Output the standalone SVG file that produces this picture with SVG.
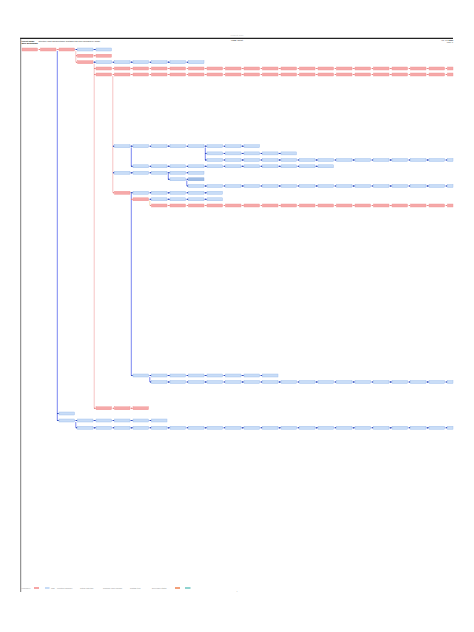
<svg xmlns="http://www.w3.org/2000/svg" width="474" height="632" viewBox="0 0 474 632">
<style>
text{font-family:"Liberation Sans",Arial,sans-serif}
.b{fill:#c9ddf7;stroke:#97b9ea;stroke-width:.4}
.r{fill:#f6a9a9;stroke:#ef9090;stroke-width:.4}
.d{fill:#9fbde6;stroke:#7fa3da;stroke-width:.4}
.cb path{stroke:#2a46c8;stroke-width:.5;fill:none;marker-end:url(#ab)}
.cr path{stroke:#ef9a9a;stroke-width:.5;fill:none;marker-end:url(#ar)}
.vb path{stroke:#5868ee;stroke-width:.8;fill:none}
.vr path{stroke:#f3aaaa;stroke-width:.7;fill:none}
.vo path{stroke:#f2cf9c;stroke-width:.7;fill:none}
</style>
<defs>
<marker id="ab" viewBox="0 0 2 2" markerWidth="1.8" markerHeight="1.8" refX="2" refY="1" orient="auto" markerUnits="userSpaceOnUse"><path d="M0 0L2 1L0 2z" fill="#1f3db8"/></marker>
<marker id="ar" viewBox="0 0 2 2" markerWidth="1.8" markerHeight="1.8" refX="2" refY="1" orient="auto" markerUnits="userSpaceOnUse"><path d="M0 0L2 1L0 2z" fill="#e57878"/></marker>
</defs>
<rect width="474" height="632" fill="#fff"/>
<g id="frame">
<line x1="20" y1="38.3" x2="453" y2="38.3" stroke="#222" stroke-width="1.2"/>
<line x1="20.7" y1="38" x2="20.7" y2="592" stroke="#444" stroke-width=".7"/>
<text x="237" y="36.4" font-size="2.4" fill="#bbb" text-anchor="middle">Project Plan</text>
<text x="237" y="41.3" font-size="2.4" fill="#333" text-anchor="middle">WBS Chart</text>
<text x="21.5" y="41.6" font-size="2" font-weight="bold" fill="#111">Project Name</text>
<text x="21.5" y="43.8" font-size="2" font-weight="bold" fill="#111">Work Breakdown</text>
<text x="38.5" y="41.6" font-size="2" fill="#333">Structure chart showing tasks, subtasks and work packages by phase</text>
<text x="453" y="41.3" font-size="2" fill="#333" text-anchor="end">Ver. 1.0 <tspan font-weight="bold">2023</tspan></text>
<text x="453" y="43.4" font-size="2" fill="#555" text-anchor="end">Page 1</text>
</g>
<g id="legend" font-size="1.8" fill="#888">
<text x="21.5" y="588.5">Legend</text>
<text x="27.5" y="588.5">Key</text>
<rect x="34" y="587" width="5" height="2" fill="#f6a5a5"/>
<rect x="45" y="587" width="4.5" height="2" fill="#c6dbf6"/>
<text x="51" y="588.5">Task</text>
<text x="57" y="588.5">Milestone summary</text>
<text x="80" y="588.5">Critical path task</text>
<text x="103" y="588.5">Summary work package</text>
<text x="130" y="588.5">Subtask item</text>
<text x="152" y="588.5">Deliverable status</text>
<rect x="175" y="587" width="5" height="2" fill="#f2a07a"/>
<rect x="185" y="587" width="5.5" height="2" fill="#8fd3d0"/>
<text x="237" y="591.5" font-size="1.8" fill="#aaa" text-anchor="middle">1</text>
</g>
<g id="connectors">
<g class="vr">
<path d="M75.8 51V62.2"/>
<path d="M94.2 63.5V408.3"/>
<path d="M112.8 76V192.8"/>
</g>
<g class="vb">
<path d="M57.3 51V420.5"/>
<path d="M131.3 147.5V166.3"/>
<path d="M205.3 147.5V160"/>
<path d="M168.3 174V179.3"/>
<path d="M186.8 180.5V186"/>
<path d="M131.3 194V375.5"/>
<path d="M149.8 377V382"/>
<path d="M75.8 422V427.8"/>
</g>
<g class="vo"><path d="M149.8 200.5V205.5"/></g>
<g class="cr">
<path d="M37.5 49.5H40.5"/><path d="M56 49.5H59"/>
<path d="M75.8 55.7H77.5"/><path d="M75.8 62.2H77.5"/><path d="M93 55.7H96"/>
<path d="M94.2 68.5H96"/><path d="M94.2 74.5H96"/><path d="M94.2 408.3H96"/>
<path d="M111.5 68.5h3"/><path d="M130 68.5h3"/><path d="M148.5 68.5h3"/><path d="M167 68.5h3"/><path d="M185.5 68.5h3"/><path d="M204 68.5h3"/><path d="M222.5 68.5h3"/><path d="M241 68.5h3"/><path d="M259.5 68.5h3"/><path d="M278 68.5h3"/><path d="M296.5 68.5h3"/><path d="M315 68.5h3"/><path d="M333.5 68.5h3"/><path d="M352 68.5h3"/><path d="M370.5 68.5h3"/><path d="M389 68.5h3"/><path d="M407.5 68.5h3"/><path d="M426 68.5h3"/><path d="M444.5 68.5h3"/>
<path d="M111.5 74.5h3"/><path d="M130 74.5h3"/><path d="M148.5 74.5h3"/><path d="M167 74.5h3"/><path d="M185.5 74.5h3"/><path d="M204 74.5h3"/><path d="M222.5 74.5h3"/><path d="M241 74.5h3"/><path d="M259.5 74.5h3"/><path d="M278 74.5h3"/><path d="M296.5 74.5h3"/><path d="M315 74.5h3"/><path d="M333.5 74.5h3"/><path d="M352 74.5h3"/><path d="M370.5 74.5h3"/><path d="M389 74.5h3"/><path d="M407.5 74.5h3"/><path d="M426 74.5h3"/><path d="M444.5 74.5h3"/>
<path d="M112.8 192.8H114.5"/>
<path d="M149.8 205.5H151.5"/>
<path d="M167 205.5h3"/><path d="M185.5 205.5h3"/><path d="M204 205.5h3"/><path d="M222.5 205.5h3"/><path d="M241 205.5h3"/><path d="M259.5 205.5h3"/><path d="M278 205.5h3"/><path d="M296.5 205.5h3"/><path d="M315 205.5h3"/><path d="M333.5 205.5h3"/><path d="M352 205.5h3"/><path d="M370.5 205.5h3"/><path d="M389 205.5h3"/><path d="M407.5 205.5h3"/><path d="M426 205.5h3"/><path d="M444.5 205.5h3"/>
<path d="M111.5 408.3h3"/><path d="M130 408.3h3"/>
<path d="M131.3 199.3H133"/>
</g>
<g class="cb">
<path d="M74.5 49.5h3"/><path d="M93 49.5h3"/>
<path d="M93 62.2h3"/><path d="M111.5 62.2h3"/><path d="M130 62.2h3"/><path d="M148.5 62.2h3"/><path d="M167 62.2h3"/><path d="M185.5 62.2h3"/>
<path d="M112.8 146.2H114.5"/><path d="M112.8 172.8H114.5"/>
<path d="M130 146.2h3"/><path d="M148.5 146.2h3"/><path d="M167 146.2h3"/><path d="M185.5 146.2h3"/><path d="M204 146.2h3"/><path d="M222.5 146.2h3"/><path d="M241 146.2h3"/>
<path d="M205.3 153.4H207"/><path d="M205.3 160H207"/>
<path d="M222.5 153.4h3"/><path d="M241 153.4h3"/><path d="M259.5 153.4h3"/><path d="M278 153.4h3"/>
<path d="M222.5 160h3"/><path d="M241 160h3"/><path d="M259.5 160h3"/><path d="M278 160h3"/><path d="M296.5 160h3"/><path d="M315 160h3"/><path d="M333.5 160h3"/><path d="M352 160h3"/><path d="M370.5 160h3"/><path d="M389 160h3"/><path d="M407.5 160h3"/><path d="M426 160h3"/><path d="M444.5 160h3"/>
<path d="M131.3 166.3H133"/>
<path d="M148.5 166.3h3"/><path d="M167 166.3h3"/><path d="M185.5 166.3h3"/><path d="M204 166.3h3"/><path d="M222.5 166.3h3"/><path d="M241 166.3h3"/><path d="M259.5 166.3h3"/><path d="M278 166.3h3"/><path d="M296.5 166.3h3"/><path d="M315 166.3h3"/>
<path d="M130 172.8h3"/><path d="M148.5 172.8h3"/><path d="M167 172.8h3"/><path d="M185.5 172.8h3"/>
<path d="M168.3 179.3H170"/><path d="M185.5 179.3h3"/>
<path d="M186.8 186H188.5"/>
<path d="M204 186h3"/><path d="M222.5 186h3"/><path d="M241 186h3"/><path d="M259.5 186h3"/><path d="M278 186h3"/><path d="M296.5 186h3"/><path d="M315 186h3"/><path d="M333.5 186h3"/><path d="M352 186h3"/><path d="M370.5 186h3"/><path d="M389 186h3"/><path d="M407.5 186h3"/><path d="M426 186h3"/><path d="M444.5 186h3"/>
<path d="M130 192.8h3"/><path d="M148.5 192.8h3"/><path d="M167 192.8h3"/><path d="M185.5 192.8h3"/><path d="M204 192.8h3"/>
<path d="M148.5 199.3h3"/><path d="M167 199.3h3"/><path d="M185.5 199.3h3"/><path d="M204 199.3h3"/>
<path d="M131.3 375.5H133"/>
<path d="M148.5 375.5h3"/><path d="M167 375.5h3"/><path d="M185.5 375.5h3"/><path d="M204 375.5h3"/><path d="M222.5 375.5h3"/><path d="M241 375.5h3"/><path d="M259.5 375.5h3"/>
<path d="M149.8 382H151.5"/>
<path d="M167 382h3"/><path d="M185.5 382h3"/><path d="M204 382h3"/><path d="M222.5 382h3"/><path d="M241 382h3"/><path d="M259.5 382h3"/><path d="M278 382h3"/><path d="M296.5 382h3"/><path d="M315 382h3"/><path d="M333.5 382h3"/><path d="M352 382h3"/><path d="M370.5 382h3"/><path d="M389 382h3"/><path d="M407.5 382h3"/><path d="M426 382h3"/><path d="M444.5 382h3"/>
<path d="M57.3 413.5H59"/><path d="M57.3 420.5H59"/>
<path d="M74.5 420.5h3"/><path d="M93 420.5h3"/><path d="M111.5 420.5h3"/><path d="M130 420.5h3"/><path d="M148.5 420.5h3"/>
<path d="M75.8 427.8H77.5"/>
<path d="M93 427.8h3"/><path d="M111.5 427.8h3"/><path d="M130 427.8h3"/><path d="M148.5 427.8h3"/><path d="M167 427.8h3"/><path d="M185.5 427.8h3"/><path d="M204 427.8h3"/><path d="M222.5 427.8h3"/><path d="M241 427.8h3"/><path d="M259.5 427.8h3"/><path d="M278 427.8h3"/><path d="M296.5 427.8h3"/><path d="M315 427.8h3"/><path d="M333.5 427.8h3"/><path d="M352 427.8h3"/><path d="M370.5 427.8h3"/><path d="M389 427.8h3"/><path d="M407.5 427.8h3"/><path d="M426 427.8h3"/><path d="M444.5 427.8h3"/>
</g>
</g>
<g id="nodes">
<g id="n1a"><rect class="r" x="22" y="48" width="15.5" height="3"/></g>
<g id="n1b"><rect class="r" x="40.5" y="48" width="15.5" height="3"/></g>
<g id="n1c"><rect class="r" x="59" y="48" width="15.5" height="3"/></g>
<g id="n1d"><rect class="b" x="77.5" y="48" width="15.5" height="3"/></g>
<g id="n1e"><rect class="b" x="96" y="48" width="15.5" height="3"/></g>
<g id="n2a"><rect class="r" x="77.5" y="54.2" width="15.5" height="3"/></g>
<g id="n2b"><rect class="r" x="96" y="54.2" width="15.5" height="3"/></g>
<g id="n3a"><rect class="r" x="77.5" y="60.7" width="15.5" height="3"/></g>
<g id="n3b"><rect class="b" x="96" y="60.7" width="15.5" height="3"/></g>
<g id="n3c"><rect class="b" x="114.5" y="60.7" width="15.5" height="3"/></g>
<g id="n3d"><rect class="b" x="133" y="60.7" width="15.5" height="3"/></g>
<g id="n3e"><rect class="b" x="151.5" y="60.7" width="15.5" height="3"/></g>
<g id="n3f"><rect class="b" x="170" y="60.7" width="15.5" height="3"/></g>
<g id="n3g"><rect class="b" x="188.5" y="60.7" width="15.5" height="3"/></g>
<g id="n4-00"><rect class="r" x="96" y="67" width="15.5" height="3"/></g>
<g id="n4-01"><rect class="r" x="114.5" y="67" width="15.5" height="3"/></g>
<g id="n4-02"><rect class="r" x="133" y="67" width="15.5" height="3"/></g>
<g id="n4-03"><rect class="r" x="151.5" y="67" width="15.5" height="3"/></g>
<g id="n4-04"><rect class="r" x="170" y="67" width="15.5" height="3"/></g>
<g id="n4-05"><rect class="r" x="188.5" y="67" width="15.5" height="3"/></g>
<g id="n4-06"><rect class="r" x="207" y="67" width="15.5" height="3"/></g>
<g id="n4-07"><rect class="r" x="225.5" y="67" width="15.5" height="3"/></g>
<g id="n4-08"><rect class="r" x="244" y="67" width="15.5" height="3"/></g>
<g id="n4-09"><rect class="r" x="262.5" y="67" width="15.5" height="3"/></g>
<g id="n4-10"><rect class="r" x="281" y="67" width="15.5" height="3"/></g>
<g id="n4-11"><rect class="r" x="299.5" y="67" width="15.5" height="3"/></g>
<g id="n4-12"><rect class="r" x="318" y="67" width="15.5" height="3"/></g>
<g id="n4-13"><rect class="r" x="336.5" y="67" width="15.5" height="3"/></g>
<g id="n4-14"><rect class="r" x="355" y="67" width="15.5" height="3"/></g>
<g id="n4-15"><rect class="r" x="373.5" y="67" width="15.5" height="3"/></g>
<g id="n4-16"><rect class="r" x="392" y="67" width="15.5" height="3"/></g>
<g id="n4-17"><rect class="r" x="410.5" y="67" width="15.5" height="3"/></g>
<g id="n4-18"><rect class="r" x="429" y="67" width="15.5" height="3"/></g>
<g id="n4-19"><rect class="r" x="447.5" y="67" width="5.5" height="3"/></g>
<g id="n5-00"><rect class="r" x="96" y="73" width="15.5" height="3"/></g>
<g id="n5-01"><rect class="r" x="114.5" y="73" width="15.5" height="3"/></g>
<g id="n5-02"><rect class="r" x="133" y="73" width="15.5" height="3"/></g>
<g id="n5-03"><rect class="r" x="151.5" y="73" width="15.5" height="3"/></g>
<g id="n5-04"><rect class="r" x="170" y="73" width="15.5" height="3"/></g>
<g id="n5-05"><rect class="r" x="188.5" y="73" width="15.5" height="3"/></g>
<g id="n5-06"><rect class="r" x="207" y="73" width="15.5" height="3"/></g>
<g id="n5-07"><rect class="r" x="225.5" y="73" width="15.5" height="3"/></g>
<g id="n5-08"><rect class="r" x="244" y="73" width="15.5" height="3"/></g>
<g id="n5-09"><rect class="r" x="262.5" y="73" width="15.5" height="3"/></g>
<g id="n5-10"><rect class="r" x="281" y="73" width="15.5" height="3"/></g>
<g id="n5-11"><rect class="r" x="299.5" y="73" width="15.5" height="3"/></g>
<g id="n5-12"><rect class="r" x="318" y="73" width="15.5" height="3"/></g>
<g id="n5-13"><rect class="r" x="336.5" y="73" width="15.5" height="3"/></g>
<g id="n5-14"><rect class="r" x="355" y="73" width="15.5" height="3"/></g>
<g id="n5-15"><rect class="r" x="373.5" y="73" width="15.5" height="3"/></g>
<g id="n5-16"><rect class="r" x="392" y="73" width="15.5" height="3"/></g>
<g id="n5-17"><rect class="r" x="410.5" y="73" width="15.5" height="3"/></g>
<g id="n5-18"><rect class="r" x="429" y="73" width="15.5" height="3"/></g>
<g id="n5-19"><rect class="r" x="447.5" y="73" width="5.5" height="3"/></g>
<g id="nA1"><rect class="b" x="114.5" y="144.7" width="15.5" height="3"/></g>
<g id="nA2"><rect class="b" x="133" y="144.7" width="15.5" height="3"/></g>
<g id="nA3"><rect class="b" x="151.5" y="144.7" width="15.5" height="3"/></g>
<g id="nA4"><rect class="b" x="170" y="144.7" width="15.5" height="3"/></g>
<g id="nA5"><rect class="b" x="188.5" y="144.7" width="15.5" height="3"/></g>
<g id="nA6"><rect class="b" x="207" y="144.7" width="15.5" height="3"/></g>
<g id="nA7"><rect class="b" x="225.5" y="144.7" width="15.5" height="3"/></g>
<g id="nA8"><rect class="b" x="244" y="144.7" width="15.5" height="3"/></g>
<g id="nB1"><rect class="b" x="207" y="151.9" width="15.5" height="3"/></g>
<g id="nB2"><rect class="b" x="225.5" y="151.9" width="15.5" height="3"/></g>
<g id="nB3"><rect class="b" x="244" y="151.9" width="15.5" height="3"/></g>
<g id="nB4"><rect class="b" x="262.5" y="151.9" width="15.5" height="3"/></g>
<g id="nB5"><rect class="b" x="281" y="151.9" width="15.5" height="3"/></g>
<g id="nC06"><rect class="b" x="207" y="158.5" width="15.5" height="3"/></g>
<g id="nC07"><rect class="b" x="225.5" y="158.5" width="15.5" height="3"/></g>
<g id="nC08"><rect class="b" x="244" y="158.5" width="15.5" height="3"/></g>
<g id="nC09"><rect class="b" x="262.5" y="158.5" width="15.5" height="3"/></g>
<g id="nC10"><rect class="b" x="281" y="158.5" width="15.5" height="3"/></g>
<g id="nC11"><rect class="b" x="299.5" y="158.5" width="15.5" height="3"/></g>
<g id="nC12"><rect class="b" x="318" y="158.5" width="15.5" height="3"/></g>
<g id="nC13"><rect class="b" x="336.5" y="158.5" width="15.5" height="3"/></g>
<g id="nC14"><rect class="b" x="355" y="158.5" width="15.5" height="3"/></g>
<g id="nC15"><rect class="b" x="373.5" y="158.5" width="15.5" height="3"/></g>
<g id="nC16"><rect class="b" x="392" y="158.5" width="15.5" height="3"/></g>
<g id="nC17"><rect class="b" x="410.5" y="158.5" width="15.5" height="3"/></g>
<g id="nC18"><rect class="b" x="429" y="158.5" width="15.5" height="3"/></g>
<g id="nC19"><rect class="b" x="447.5" y="158.5" width="5.5" height="3"/></g>
<g id="nD02"><rect class="b" x="133" y="164.8" width="15.5" height="3"/></g>
<g id="nD03"><rect class="b" x="151.5" y="164.8" width="15.5" height="3"/></g>
<g id="nD04"><rect class="b" x="170" y="164.8" width="15.5" height="3"/></g>
<g id="nD05"><rect class="b" x="188.5" y="164.8" width="15.5" height="3"/></g>
<g id="nD06"><rect class="b" x="207" y="164.8" width="15.5" height="3"/></g>
<g id="nD07"><rect class="b" x="225.5" y="164.8" width="15.5" height="3"/></g>
<g id="nD08"><rect class="b" x="244" y="164.8" width="15.5" height="3"/></g>
<g id="nD09"><rect class="b" x="262.5" y="164.8" width="15.5" height="3"/></g>
<g id="nD10"><rect class="b" x="281" y="164.8" width="15.5" height="3"/></g>
<g id="nD11"><rect class="b" x="299.5" y="164.8" width="15.5" height="3"/></g>
<g id="nD12"><rect class="b" x="318" y="164.8" width="15.5" height="3"/></g>
<g id="nE1"><rect class="b" x="114.5" y="171.3" width="15.5" height="3"/></g>
<g id="nE2"><rect class="b" x="133" y="171.3" width="15.5" height="3"/></g>
<g id="nE3"><rect class="b" x="151.5" y="171.3" width="15.5" height="3"/></g>
<g id="nE4"><rect class="b" x="170" y="171.3" width="15.5" height="3"/></g>
<g id="nE5"><rect class="b" x="188.5" y="171.3" width="15.5" height="3"/></g>
<g id="nF1"><rect class="b" x="170" y="177.8" width="15.5" height="3"/></g>
<g id="nF2"><rect class="d" x="188.5" y="177.8" width="15.5" height="3"/></g>
<g id="nG05"><rect class="b" x="188.5" y="184.5" width="15.5" height="3"/></g>
<g id="nG06"><rect class="b" x="207" y="184.5" width="15.5" height="3"/></g>
<g id="nG07"><rect class="b" x="225.5" y="184.5" width="15.5" height="3"/></g>
<g id="nG08"><rect class="b" x="244" y="184.5" width="15.5" height="3"/></g>
<g id="nG09"><rect class="b" x="262.5" y="184.5" width="15.5" height="3"/></g>
<g id="nG10"><rect class="b" x="281" y="184.5" width="15.5" height="3"/></g>
<g id="nG11"><rect class="b" x="299.5" y="184.5" width="15.5" height="3"/></g>
<g id="nG12"><rect class="b" x="318" y="184.5" width="15.5" height="3"/></g>
<g id="nG13"><rect class="b" x="336.5" y="184.5" width="15.5" height="3"/></g>
<g id="nG14"><rect class="b" x="355" y="184.5" width="15.5" height="3"/></g>
<g id="nG15"><rect class="b" x="373.5" y="184.5" width="15.5" height="3"/></g>
<g id="nG16"><rect class="b" x="392" y="184.5" width="15.5" height="3"/></g>
<g id="nG17"><rect class="b" x="410.5" y="184.5" width="15.5" height="3"/></g>
<g id="nG18"><rect class="b" x="429" y="184.5" width="15.5" height="3"/></g>
<g id="nG19"><rect class="b" x="447.5" y="184.5" width="5.5" height="3"/></g>
<g id="nH1"><rect class="r" x="114.5" y="191.3" width="15.5" height="3"/></g>
<g id="nH2"><rect class="b" x="133" y="191.3" width="15.5" height="3"/></g>
<g id="nH3"><rect class="b" x="151.5" y="191.3" width="15.5" height="3"/></g>
<g id="nH4"><rect class="b" x="170" y="191.3" width="15.5" height="3"/></g>
<g id="nH5"><rect class="b" x="188.5" y="191.3" width="15.5" height="3"/></g>
<g id="nH6"><rect class="b" x="207" y="191.3" width="15.5" height="3"/></g>
<g id="nI2"><rect class="r" x="133" y="197.8" width="15.5" height="3"/></g>
<g id="nI3"><rect class="b" x="151.5" y="197.8" width="15.5" height="3"/></g>
<g id="nI4"><rect class="b" x="170" y="197.8" width="15.5" height="3"/></g>
<g id="nI5"><rect class="b" x="188.5" y="197.8" width="15.5" height="3"/></g>
<g id="nI6"><rect class="b" x="207" y="197.8" width="15.5" height="3"/></g>
<g id="nJ03"><rect class="r" x="151.5" y="204" width="15.5" height="3"/></g>
<g id="nJ04"><rect class="r" x="170" y="204" width="15.5" height="3"/></g>
<g id="nJ05"><rect class="r" x="188.5" y="204" width="15.5" height="3"/></g>
<g id="nJ06"><rect class="r" x="207" y="204" width="15.5" height="3"/></g>
<g id="nJ07"><rect class="r" x="225.5" y="204" width="15.5" height="3"/></g>
<g id="nJ08"><rect class="r" x="244" y="204" width="15.5" height="3"/></g>
<g id="nJ09"><rect class="r" x="262.5" y="204" width="15.5" height="3"/></g>
<g id="nJ10"><rect class="r" x="281" y="204" width="15.5" height="3"/></g>
<g id="nJ11"><rect class="r" x="299.5" y="204" width="15.5" height="3"/></g>
<g id="nJ12"><rect class="r" x="318" y="204" width="15.5" height="3"/></g>
<g id="nJ13"><rect class="r" x="336.5" y="204" width="15.5" height="3"/></g>
<g id="nJ14"><rect class="r" x="355" y="204" width="15.5" height="3"/></g>
<g id="nJ15"><rect class="r" x="373.5" y="204" width="15.5" height="3"/></g>
<g id="nJ16"><rect class="r" x="392" y="204" width="15.5" height="3"/></g>
<g id="nJ17"><rect class="r" x="410.5" y="204" width="15.5" height="3"/></g>
<g id="nJ18"><rect class="r" x="429" y="204" width="15.5" height="3"/></g>
<g id="nJ19"><rect class="r" x="447.5" y="204" width="5.5" height="3"/></g>
<g id="nK2"><rect class="b" x="133" y="374" width="15.5" height="3"/></g>
<g id="nK3"><rect class="b" x="151.5" y="374" width="15.5" height="3"/></g>
<g id="nK4"><rect class="b" x="170" y="374" width="15.5" height="3"/></g>
<g id="nK5"><rect class="b" x="188.5" y="374" width="15.5" height="3"/></g>
<g id="nK6"><rect class="b" x="207" y="374" width="15.5" height="3"/></g>
<g id="nK7"><rect class="b" x="225.5" y="374" width="15.5" height="3"/></g>
<g id="nK8"><rect class="b" x="244" y="374" width="15.5" height="3"/></g>
<g id="nK9"><rect class="b" x="262.5" y="374" width="15.5" height="3"/></g>
<g id="nL03"><rect class="b" x="151.5" y="380.5" width="15.5" height="3"/></g>
<g id="nL04"><rect class="b" x="170" y="380.5" width="15.5" height="3"/></g>
<g id="nL05"><rect class="b" x="188.5" y="380.5" width="15.5" height="3"/></g>
<g id="nL06"><rect class="b" x="207" y="380.5" width="15.5" height="3"/></g>
<g id="nL07"><rect class="b" x="225.5" y="380.5" width="15.5" height="3"/></g>
<g id="nL08"><rect class="b" x="244" y="380.5" width="15.5" height="3"/></g>
<g id="nL09"><rect class="b" x="262.5" y="380.5" width="15.5" height="3"/></g>
<g id="nL10"><rect class="b" x="281" y="380.5" width="15.5" height="3"/></g>
<g id="nL11"><rect class="b" x="299.5" y="380.5" width="15.5" height="3"/></g>
<g id="nL12"><rect class="b" x="318" y="380.5" width="15.5" height="3"/></g>
<g id="nL13"><rect class="b" x="336.5" y="380.5" width="15.5" height="3"/></g>
<g id="nL14"><rect class="b" x="355" y="380.5" width="15.5" height="3"/></g>
<g id="nL15"><rect class="b" x="373.5" y="380.5" width="15.5" height="3"/></g>
<g id="nL16"><rect class="b" x="392" y="380.5" width="15.5" height="3"/></g>
<g id="nL17"><rect class="b" x="410.5" y="380.5" width="15.5" height="3"/></g>
<g id="nL18"><rect class="b" x="429" y="380.5" width="15.5" height="3"/></g>
<g id="nL19"><rect class="b" x="447.5" y="380.5" width="5.5" height="3"/></g>
<g id="nM0"><rect class="r" x="96" y="406.8" width="15.5" height="3"/></g>
<g id="nM1"><rect class="r" x="114.5" y="406.8" width="15.5" height="3"/></g>
<g id="nM2"><rect class="r" x="133" y="406.8" width="15.5" height="3"/></g>
<g id="nP"><rect class="b" x="59" y="412" width="15.5" height="3"/></g>
<g id="nQ1"><rect class="b" x="59" y="419" width="15.5" height="3"/></g>
<g id="nQ2"><rect class="b" x="77.5" y="419" width="15.5" height="3"/></g>
<g id="nQ3"><rect class="b" x="96" y="419" width="15.5" height="3"/></g>
<g id="nQ4"><rect class="b" x="114.5" y="419" width="15.5" height="3"/></g>
<g id="nQ5"><rect class="b" x="133" y="419" width="15.5" height="3"/></g>
<g id="nQ6"><rect class="b" x="151.5" y="419" width="15.5" height="3"/></g>
<g id="nR-1"><rect class="b" x="77.5" y="426.3" width="15.5" height="3"/></g>
<g id="nR00"><rect class="b" x="96" y="426.3" width="15.5" height="3"/></g>
<g id="nR01"><rect class="b" x="114.5" y="426.3" width="15.5" height="3"/></g>
<g id="nR02"><rect class="b" x="133" y="426.3" width="15.5" height="3"/></g>
<g id="nR03"><rect class="b" x="151.5" y="426.3" width="15.5" height="3"/></g>
<g id="nR04"><rect class="b" x="170" y="426.3" width="15.5" height="3"/></g>
<g id="nR05"><rect class="b" x="188.5" y="426.3" width="15.5" height="3"/></g>
<g id="nR06"><rect class="b" x="207" y="426.3" width="15.5" height="3"/></g>
<g id="nR07"><rect class="b" x="225.5" y="426.3" width="15.5" height="3"/></g>
<g id="nR08"><rect class="b" x="244" y="426.3" width="15.5" height="3"/></g>
<g id="nR09"><rect class="b" x="262.5" y="426.3" width="15.5" height="3"/></g>
<g id="nR10"><rect class="b" x="281" y="426.3" width="15.5" height="3"/></g>
<g id="nR11"><rect class="b" x="299.5" y="426.3" width="15.5" height="3"/></g>
<g id="nR12"><rect class="b" x="318" y="426.3" width="15.5" height="3"/></g>
<g id="nR13"><rect class="b" x="336.5" y="426.3" width="15.5" height="3"/></g>
<g id="nR14"><rect class="b" x="355" y="426.3" width="15.5" height="3"/></g>
<g id="nR15"><rect class="b" x="373.5" y="426.3" width="15.5" height="3"/></g>
<g id="nR16"><rect class="b" x="392" y="426.3" width="15.5" height="3"/></g>
<g id="nR17"><rect class="b" x="410.5" y="426.3" width="15.5" height="3"/></g>
<g id="nR18"><rect class="b" x="429" y="426.3" width="15.5" height="3"/></g>
<g id="nR19"><rect class="b" x="447.5" y="426.3" width="5.5" height="3"/></g>
</g>
</svg>
